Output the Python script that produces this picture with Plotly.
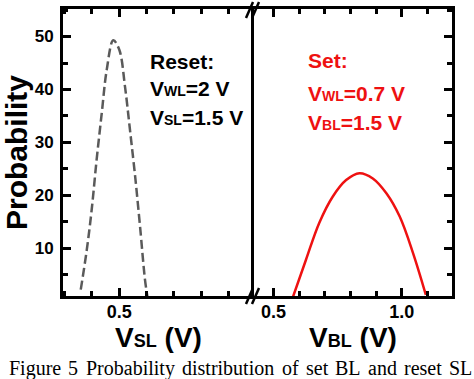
import plotly.graph_objects as go

# Reset (SL) distribution - dashed grey
reset_v = [0.359, 0.381, 0.399, 0.417, 0.436, 0.454, 0.478, 0.500, 0.521, 0.539, 0.558, 0.576, 0.594, 0.603]
reset_p = [2.2, 9.7, 17.3, 26.7, 35.6, 43.7, 49.3, 47.5, 40.5, 32.4, 23.6, 14.1, 4.1, 0.9]

# Set (BL) distribution - red
set_v = [0.576, 0.626, 0.678, 0.731, 0.783, 0.835, 0.887, 0.940, 0.992, 1.044, 1.094]
set_p = [0.9, 7.8, 14.8, 19.8, 22.9, 24.2, 23.2, 20.4, 16.0, 9.1, 1.2]

caption_words = ["Figure", "5", "Probability", "distribution", "of", "set", "BL", "and", "reset", "SL"]

W, H = 474, 379
SANS = "Liberation Sans, Arial, sans-serif"
SERIF = "Liberation Serif, Times New Roman, serif"

fig = go.Figure()
fig.add_trace(go.Scatter(x=reset_v, y=reset_p, mode="lines", xaxis="x", yaxis="y",
                         line=dict(color="#5a5a5a", width=2.5, dash="9px,4px"),
                         line_shape="spline", showlegend=False))
fig.add_trace(go.Scatter(x=set_v, y=set_p, mode="lines", xaxis="x2", yaxis="y2",
                         line=dict(color="#ee1111", width=2.5),
                         line_shape="spline", showlegend=False))

x_left = [63 / W, 254 / W]
x_right = [254 / W, 452 / W]
y_dom = [(H - 296) / H, (H - 9) / H]
yrange = [1, 55.2]

common_x = dict(showline=True, linewidth=3, linecolor="black", ticks="inside",
                ticklen=8, tickwidth=2.5, tickcolor="black", dtick=0.5, tick0=0,
                tickformat=".1f", mirror="ticks", showgrid=False, zeroline=False,
                ticklabelstandoff=-3,
                tickfont=dict(family=SANS, size=18, color="black", weight="bold"),
                minor=dict(dtick=0.1, tick0=0, ticks="inside", ticklen=5,
                           tickwidth=2.5, tickcolor="black", showgrid=False))
common_y = dict(showline=True, linewidth=3, linecolor="black", ticks="inside",
                ticklen=8, tickwidth=2.5, tickcolor="black", dtick=10, tick0=0,
                range=yrange, domain=y_dom, showgrid=False, zeroline=False,
                minor=dict(dtick=5, tick0=0, ticks="inside", ticklen=5,
                           tickwidth=2.5, tickcolor="black", showgrid=False))

fig.update_layout(
    width=W, height=H, margin=dict(l=0, r=0, t=0, b=0),
    paper_bgcolor="white", plot_bgcolor="white",
    xaxis=dict(domain=x_left, range=[0.294, 0.993], anchor="y",
               title=dict(text="V<span style='font-size:18px'>SL</span> (V)",
                          font=dict(family=SANS, size=28, color="black", weight="bold"),
                          standoff=2),
               **common_x),
    yaxis=dict(anchor="x", mirror=False,
               tickfont=dict(family=SANS, size=17, color="black", weight="bold"),
               ticklabelstandoff=3,
               title=dict(text="Probability",
                          font=dict(family=SANS, size=30, color="black", weight="bold"),
                          standoff=2),
               **common_y),
    xaxis2=dict(domain=x_right, range=[0.4235, 1.196], anchor="y2",
                title=dict(text="V<span style='font-size:18px'>BL</span> (V)",
                           font=dict(family=SANS, size=28, color="black", weight="bold"),
                           standoff=2),
                **common_x),
    yaxis2=dict(anchor="x2", side="right", mirror=True, showticklabels=False,
                **common_y),
)

# Axis break marks
for (x0, y0, x1, y1) in [(246, 18, 253, 2), (252, 18, 259, 2),
                         (246, 304, 253, 288), (252, 304, 259, 288)]:
    fig.add_shape(type="line", xref="paper", yref="paper",
                  x0=x0 / W, y0=1 - y0 / H, x1=x1 / W, y1=1 - y1 / H,
                  line=dict(color="black", width=2.5))

def ann(text, x, y, color, size=21):
    fig.add_annotation(text=text, x=x / W, y=1 - y / H, xref="paper", yref="paper",
                       xanchor="left", yanchor="middle", showarrow=False,
                       font=dict(family=SANS, size=size, color=color, weight="bold"))

ann("Reset:", 148, 62, "black")
ann("V<span style='font-size:14px'>WL</span>=2 V", 148, 89, "black")
ann("V<span style='font-size:14px'>SL</span>=1.5 V", 148, 117, "black")
ann("Set:", 306, 60, "#ee1111")
ann("V<span style='font-size:14px'>WL</span>=0.7 V", 306, 93, "#ee1111")
ann("V<span style='font-size:14px'>BL</span>=1.5 V", 306, 122, "#ee1111")

# Caption, justified across the width (word starts computed from Times metrics)
caption_x = [7, 66, 84, 180, 280, 304, 333, 366, 402, 447]
for wtxt, wx in zip(caption_words, caption_x):
    fig.add_annotation(text=wtxt, x=wx / W, y=1 - 368 / H, xref="paper", yref="paper",
                       xanchor="left", yanchor="middle", showarrow=False,
                       font=dict(family=SERIF, size=20, color="black"))

fig.write_html("out.html", config={"displayModeBar": False},
               post_script="document.body.style.margin='0';document.body.style.overflow='hidden';")
